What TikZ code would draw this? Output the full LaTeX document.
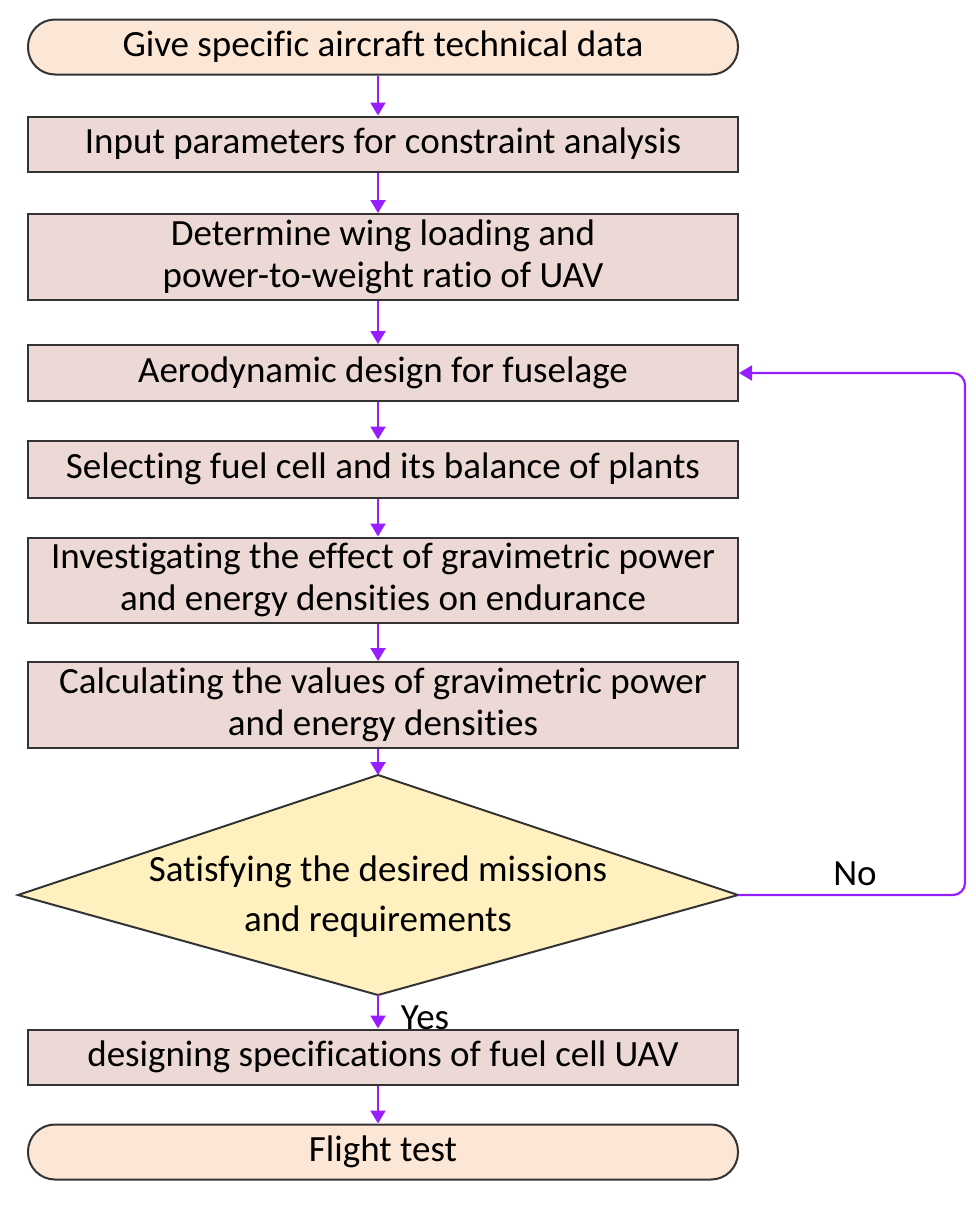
\documentclass[tikz,border=0pt]{standalone}
\usepackage{fontspec}
\setmainfont[Ligatures={NoCommon}]{Carlito}
\usetikzlibrary{shapes.geometric,arrows.meta}
\definecolor{boxf}{RGB}{236,216,212}
\definecolor{termf}{RGB}{252,230,214}
\definecolor{diaf}{RGB}{255,240,192}
\definecolor{arr}{RGB}{150,30,255}
\begin{document}
\begin{tikzpicture}[x=1pt,y=-1pt,
  box/.style={draw=black!80,line width=2pt,fill=boxf,minimum width=710pt,align=center,font=\fontsize{37}{42}\selectfont,inner sep=0pt},
  term/.style={box,fill=termf,rounded corners=27pt},
  ar/.style={draw=arr,line width=2.2pt,-{Triangle[length=13pt,width=15pt]}},
  lab/.style={font=\fontsize{37}{42}\selectfont}]
\useasboundingbox (0,0) rectangle (975,1210);
\node[term,minimum height=55pt] (n1) at (383,47) {Give specific aircraft technical data};
\node[box,minimum height=55pt] (n2) at (383,144) {Input parameters for constraint analysis};
\node[box,minimum height=86pt] (n3) at (383,257) {Determine wing loading and\\power-to-weight ratio of UAV};
\node[box,minimum height=56pt] (n4) at (383,373) {Aerodynamic design for fuselage};
\node[box,minimum height=57pt] (n5) at (383,469) {Selecting fuel cell and its balance of plants};
\node[box,minimum height=85pt] (n6) at (383,580) {Investigating the effect of gravimetric power\\and energy densities on endurance};
\node[box,minimum height=86pt] (n7) at (383,705) {Calculating the values of gravimetric power\\and energy densities};
\draw[line width=2pt,draw=black!80,fill=diaf] (18,895) coordinate (dl) -- (378,775) coordinate (dt) -- (738,895) coordinate (dr) -- (378,995) coordinate (db) -- cycle;
\node[align=center,font=\fontsize{37}{50}\selectfont] (n8) at (378,897) {Satisfying the desired missions\\and requirements};
\node[box,minimum height=55pt] (n9) at (383,1057) {designing specifications of fuel cell UAV};
\node[term,minimum height=55pt] (n10) at (383,1152) {Flight test};
\foreach \a/\b in {n1/n2,n2/n3,n3/n4,n4/n5,n5/n6,n6/n7}
  \draw[ar] (\a.south -| dt) -- (\b.north -| dt);
\draw[ar] (n7.south -| dt) -- (dt);
\draw[ar] (db) -- (n9.north -| dt);
\draw[ar] (n9.south -| dt) -- (n10.north -| dt);
\coordinate (c) at (965,895);
\draw[ar,rounded corners=12pt] (dr) -- (c) -- (c |- n4.east) -- (n4.east);
\node[lab] (no) at (855,874) {No};
\node[lab] (yes) at (425,1018) {Yes};
\end{tikzpicture}
\end{document}
